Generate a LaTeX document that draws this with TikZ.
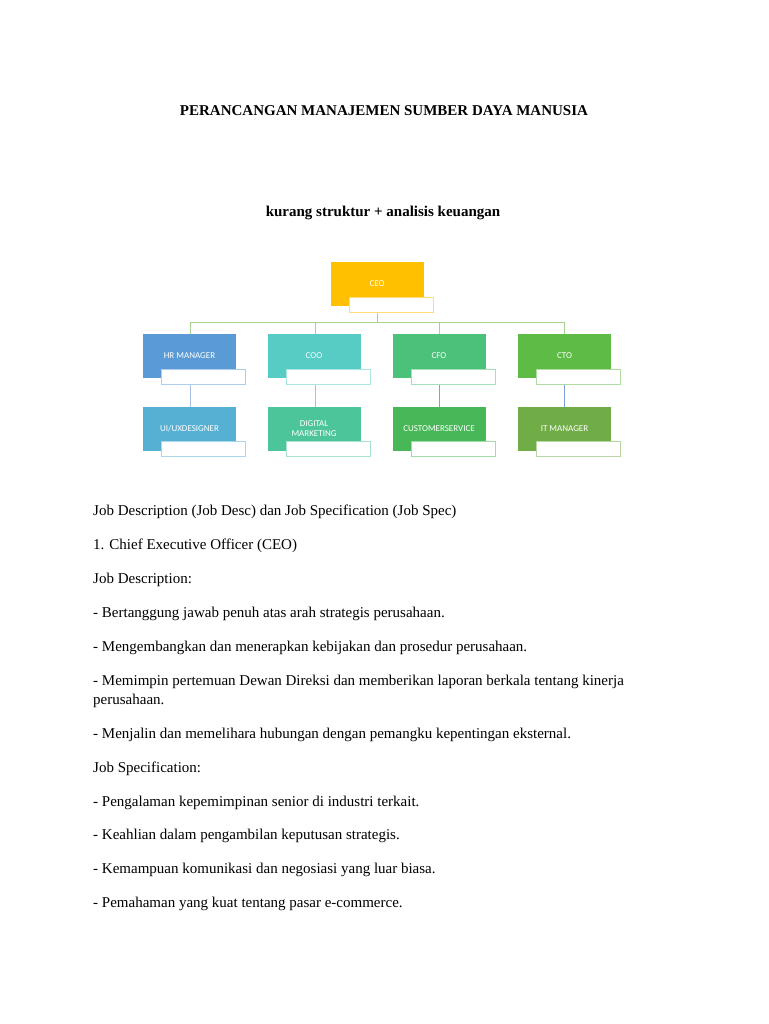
\documentclass[tikz,border=0pt]{standalone}
\usepackage{fontspec}
\setmainfont{Liberation Serif}
\newfontfamily\boxfont{Carlito}
\begin{document}
\begin{tikzpicture}[x=1pt,y=-1pt,
  body/.style={anchor=west,inner sep=0pt,font=\fontsize{15}{19}\selectfont},
  bx/.style={minimum width=93pt,minimum height=44pt,inner sep=0pt,text=white,font=\boxfont\fontsize{9}{10}\selectfont,align=center},
  sub/.style={draw=#1,fill=white,minimum width=84pt,minimum height=15pt,inner sep=0pt}]
\useasboundingbox[fill=white] (0,0) rectangle (768,1024);
\definecolor{lg}{HTML}{A9D18E}
\definecolor{lb}{HTML}{A9BFE8}
\definecolor{mb}{HTML}{7C9FE0}
\definecolor{ceoc}{HTML}{FFC000}
\definecolor{ceosc}{HTML}{FFDC78}
% text
\node[anchor=center,inner sep=0pt,font=\bfseries\fontsize{15}{19}\selectfont] (t1) at (384,111) {PERANCANGAN MANAJEMEN SUMBER DAYA MANUSIA};
\node[anchor=center,inner sep=0pt,font=\bfseries\fontsize{15}{19}\selectfont] (t2) at (383,213) {kurang struktur + analisis keuangan};
% chart
\coordinate (bus) at (377,322);
\draw[lg,line width=1pt] (190,334) -- (190,322) -- (564,322) -- (564,334);
\draw[lg,line width=1pt] (315,334) -- (315,322);
\draw[lg,line width=1pt] (439,334) -- (439,322);
\draw[lg,line width=1pt] (377,312) -- (bus);
\draw[lb,line width=1pt] (190,384) -- (190,407);
\draw[lb,line width=1pt] (315,384) -- (315,407);
\draw[mb,line width=1pt] (439,384) -- (439,407);
\draw[mb,line width=1pt] (564,384) -- (564,407);
\node[bx,fill=ceoc] (ceo) at (377,284) {CEO};
\node[sub=ceosc] (ceos) at (391,304.5) {};
\foreach \n/\x/\c/\t in {hr/189.5/5B9BD5/HR MANAGER, coo/314/56CCC5/COO, cfo/439/4CC17A/CFO, cto/564.5/5DBB46/CTO}{
  \definecolor{cc}{HTML}{\c}
  \node[bx,fill=cc] (\n) at (\x,356) {\t};
  \node[sub=cc!50] (\n s) at (\x+14,376.5) {};
}
\foreach \n/\x/\c/\t in {ui/189.5/55B0D4/{UI{/}UXDESIGNER}, dm/314/4DC59A/{DIGITAL\\MARKETING}, cs/439/47B758/CUSTOMERSERVICE, it/564.5/70AD47/IT MANAGER}{
  \definecolor{cc}{HTML}{\c}
  \node[bx,fill=cc] (\n) at (\x,429) {\t};
  \node[sub=cc!50] (\n s) at (\x+14,448.5) {};
}
% body text
\node[body] (l1) at (93,512) {Job Description (Job Desc) dan Job Specification (Job Spec)};
\node[body] (l2) at (93,546) {1. Chief Executive Officer (CEO)};
\node[body] (l3) at (93,580) {Job Description:};
\node[body] (l4) at (93,614) {- Bertanggung jawab penuh atas arah strategis perusahaan.};
\node[body] (l5) at (93,648) {- Mengembangkan dan menerapkan kebijakan dan prosedur perusahaan.};
\node[body] (l6) at (93,682) {- Memimpin pertemuan Dewan Direksi dan memberikan laporan berkala tentang kinerja};
\node[body] (l6b) at (93,701) {perusahaan.};
\node[body] (l7) at (93,735) {- Menjalin dan memelihara hubungan dengan pemangku kepentingan eksternal.};
\node[body] (l8) at (93,769) {Job Specification:};
\node[body] (l9) at (93,803) {- Pengalaman kepemimpinan senior di industri terkait.};
\node[body] (l10) at (93,836) {- Keahlian dalam pengambilan keputusan strategis.};
\node[body] (l11) at (93,870) {- Kemampuan komunikasi dan negosiasi yang luar biasa.};
\node[body] (l12) at (93,904) {- Pemahaman yang kuat tentang pasar e-commerce.};
\end{tikzpicture}
\end{document}
